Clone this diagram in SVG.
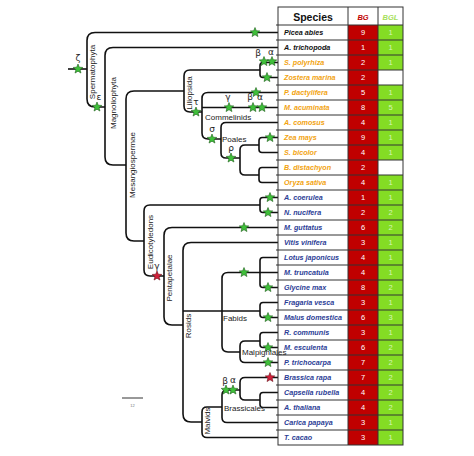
<svg xmlns="http://www.w3.org/2000/svg" xmlns:xlink="http://www.w3.org/1999/xlink" width="474" height="456" viewBox="0 0 474 456">
<defs>
<polygon id="star" points="0,-5 1.29,-1.78 4.76,-1.55 2.09,0.68 2.94,4.05 0,2.2 -2.94,4.05 -2.09,0.68 -4.76,-1.55 -1.29,-1.78"/>
<style>
.br{fill:none;stroke:#111;stroke-width:1.6}
.gs{fill:#3fbf3a;stroke:#1d5e1a;stroke-width:0.6}
.rs{fill:#d0203a;stroke:#6a0f18;stroke-width:0.6}
.cl{font-family:"Liberation Sans",Arial,sans-serif;font-size:8px;fill:#222}
.gk{font-family:"DejaVu Sans","Liberation Sans",sans-serif;font-size:9px;fill:#222;text-anchor:middle}
.sp{font-family:"Liberation Sans",Arial,sans-serif;font-size:7.2px;font-weight:bold;font-style:italic}
.k{fill:#111}.o{fill:#f2a30f}.b{fill:#2b3d96}
.bg{fill:#c00000}.bgl{fill:#84dc24}
.n1{font-family:"Liberation Sans",Arial,sans-serif;font-size:7.5px;fill:#fff;text-anchor:middle}
.n2{font-family:"Liberation Sans",Arial,sans-serif;font-size:7.5px;fill:#d8f5b8;text-anchor:middle}
.grid{stroke:#333;stroke-width:1;fill:none}
</style>
</defs>
<rect width="474" height="456" fill="#fff"/>
<g id="connectors">
<path class="br" d="M68,69 H87"/>
<path class="br" d="M278,32.5 H95 Q87,32.5 87,40.5 V99 Q87,107 95,107 H105"/>
<path class="br" d="M278,47.5 H113 Q105,47.5 105,55.5 V157 Q105,165 113,165 H126"/>
<path class="br" d="M184,91 H134 Q126,91 126,99 V233 Q126,241 134,241 H144"/>
<path class="br" d="M260,70 H190 Q184,70 184,76 V106 Q184,112 190,112 H202"/>
<path class="br" d="M278,62.5 H263 Q260,62.5 260,65.5 V74.5 Q260,77.5 263,77.5 H278"/>
<path class="br" d="M278,92.5 H208 Q202,92.5 202,98.5 V133 Q202,139 208,139 H221"/>
<path class="br" d="M202,107.5 H278"/>
<path class="br" d="M278,122.5 H226 Q221,122.5 221,127.5 V153 Q221,158 226,158 H240"/>
<path class="br" d="M259,145 H245 Q240,145 240,150 V170 Q240,175 245,175 H259"/>
<path class="br" d="M278,137.5 H262 Q259,137.5 259,140.5 V149.5 Q259,152.5 262,152.5 H278"/>
<path class="br" d="M278,167.5 H262 Q259,167.5 259,170.5 V179.5 Q259,182.5 262,182.5 H278"/>
<path class="br" d="M260,205 H150 Q144,205 144,211 V270 Q144,276 150,276 H164"/>
<path class="br" d="M278,197.5 H263 Q260,197.5 260,200.5 V209.5 Q260,212.5 263,212.5 H278"/>
<path class="br" d="M278,227.5 H172 Q164,227.5 164,235.5 V317 Q164,325 172,325 H183"/>
<path class="br" d="M278,242.5 H191 Q183,242.5 183,250.5 V414 Q183,422 191,422 H202"/>
<path class="br" d="M183,311 H260"/>
<path class="br" d="M278,272.5 H228 Q222,272.5 222,278.5 V346 Q222,352 228,352 H240"/>
<path class="br" d="M278,257.5 H263 Q260,257.5 260,260.5 V284.5 Q260,287.5 263,287.5 H278"/>
<path class="br" d="M278,302.5 H263 Q260,302.5 260,305.5 V314.5 Q260,317.5 263,317.5 H278"/>
<path class="br" d="M260,341 H245 Q240,341 240,346 V357.5 Q240,362.5 245,362.5 H278"/>
<path class="br" d="M278,332.5 H263 Q260,332.5 260,335.5 V344.5 Q260,347.5 263,347.5 H278"/>
<path class="br" d="M222,407 H207 Q202,407 202,412 V432.5 Q202,437.5 207,437.5 H278"/>
<path class="br" d="M240,390 H227 Q222,390 222,395 V417.5 Q222,422.5 227,422.5 H278"/>
<path class="br" d="M278,377.5 H245 Q240,377.5 240,382.5 V395 Q240,400 245,400 H260"/>
<path class="br" d="M278,392.5 H263 Q260,392.5 260,395.5 V404.5 Q260,407.5 263,407.5 H278"/>
</g>
<g id="events">
<use xlink:href="#star" class="gs" x="78" y="69"/>
<use xlink:href="#star" class="gs" x="255" y="32.5"/>
<use xlink:href="#star" class="gs" x="97" y="107"/>
<use xlink:href="#star" class="gs" x="264" y="61.5"/>
<use xlink:href="#star" class="gs" x="272" y="61.5"/>
<use xlink:href="#star" class="gs" x="267" y="77.5"/>
<use xlink:href="#star" class="gs" x="256" y="92.5"/>
<use xlink:href="#star" class="gs" x="229" y="107.5"/>
<use xlink:href="#star" class="gs" x="253" y="107.5"/>
<use xlink:href="#star" class="gs" x="262" y="107.5"/>
<use xlink:href="#star" class="gs" x="196" y="112"/>
<use xlink:href="#star" class="gs" x="212" y="139"/>
<use xlink:href="#star" class="gs" x="231" y="158"/>
<use xlink:href="#star" class="gs" x="270" y="137.5"/>
<use xlink:href="#star" class="gs" x="270" y="197.5"/>
<use xlink:href="#star" class="gs" x="268" y="212.5"/>
<use xlink:href="#star" class="rs" x="157" y="276"/>
<use xlink:href="#star" class="gs" x="244" y="227.5"/>
<use xlink:href="#star" class="gs" x="244" y="272.5"/>
<use xlink:href="#star" class="gs" x="268" y="287.5"/>
<use xlink:href="#star" class="gs" x="268" y="317.5"/>
<use xlink:href="#star" class="gs" x="268" y="347.5"/>
<use xlink:href="#star" class="gs" x="268" y="362.5"/>
<use xlink:href="#star" class="gs" x="226" y="390"/>
<use xlink:href="#star" class="gs" x="233" y="390"/>
<use xlink:href="#star" class="rs" x="270" y="377.5"/>
</g>
<g id="clade-labels">
<text class="gk" x="78" y="61" font-size="10">ζ</text>
<text class="gk" x="99" y="100">ε</text>
<text class="gk" x="258" y="56">β</text>
<text class="gk" x="271" y="55">α</text>
<text class="gk" x="196" y="105">τ</text>
<text class="gk" x="228" y="100">γ</text>
<text class="gk" x="250" y="100">β</text>
<text class="gk" x="260" y="100">α</text>
<text class="gk" x="212" y="132">σ</text>
<text class="gk" x="231" y="151">ρ</text>
<text class="gk" x="157" y="269">γ</text>
<text class="gk" x="225" y="384">β</text>
<text class="gk" x="233" y="383">α</text>
<text class="cl" transform="rotate(-90 95 72)" x="95" y="72" text-anchor="middle">Spermatophyta</text>
<text class="cl" transform="rotate(-90 116 103)" x="116" y="103" text-anchor="middle">Magnoliophyta</text>
<text class="cl" transform="rotate(-90 135 165)" x="135" y="165" text-anchor="middle">Mesangiospermae</text>
<text class="cl" transform="rotate(-90 192 93)" x="192" y="93" text-anchor="middle">Liliopsida</text>
<text class="cl" transform="rotate(-90 153 242)" x="153" y="242" text-anchor="middle">Eudicotyledons</text>
<text class="cl" transform="rotate(-90 172 278)" x="172" y="278" text-anchor="middle">Pentapetalae</text>
<text class="cl" transform="rotate(-90 191 326)" x="191" y="326" text-anchor="middle">Rosids</text>
<text class="cl" transform="rotate(-90 210 421)" x="210" y="421" text-anchor="middle">Malvids</text>
<text class="cl" x="205" y="120" font-size="8.5">Commelinids</text>
<text class="cl" x="222" y="142" font-size="5.5">Poales</text>
<text class="cl" x="223" y="321">Fabids</text>
<text class="cl" x="242" y="355" font-size="6.5">Malpighiales</text>
<text class="cl" x="224" y="411" font-size="7">Brassicales</text>
</g>
<g id="scale">
<path d="M122,398 H143" stroke="#333" stroke-width="1"/>
<text x="132.5" y="407" font-family="Liberation Sans,sans-serif" font-size="4" fill="#777" text-anchor="middle">12</text>
</g>
<g id="table">
<rect x="278" y="7" width="125" height="18" fill="#fff"/>
<text x="313" y="20.5" font-family="Liberation Sans,Arial,sans-serif" font-size="10.5" font-weight="bold" fill="#111" text-anchor="middle">Species</text>
<text x="363" y="19.5" font-family="Liberation Sans,Arial,sans-serif" font-size="7.5" font-weight="bold" font-style="italic" fill="#c00000" text-anchor="middle">BG</text>
<text x="390.5" y="19.5" font-family="Liberation Sans,Arial,sans-serif" font-size="7.5" font-weight="bold" font-style="italic" fill="#a6e05a" text-anchor="middle">BGL</text>
<g id="row1"><rect class="bg" x="348" y="25" width="30" height="15"/><rect class="bgl" x="378" y="25" width="25" height="15"/><text class="sp k" x="284" y="35">Picea abies</text><text class="n1" x="363" y="35">9</text><text class="n2" x="390.5" y="35">1</text></g>
<g id="row2"><rect class="bg" x="348" y="40" width="30" height="15"/><rect class="bgl" x="378" y="40" width="25" height="15"/><text class="sp k" x="284" y="50">A. trichopoda</text><text class="n1" x="363" y="50">1</text><text class="n2" x="390.5" y="50">1</text></g>
<g id="row3"><rect class="bg" x="348" y="55" width="30" height="15"/><rect class="bgl" x="378" y="55" width="25" height="15"/><text class="sp o" x="284" y="65">S. polyrhiza</text><text class="n1" x="363" y="65">2</text><text class="n2" x="390.5" y="65">1</text></g>
<g id="row4"><rect class="bg" x="348" y="70" width="30" height="15"/><text class="sp o" x="284" y="80">Zostera marina</text><text class="n1" x="363" y="80">2</text></g>
<g id="row5"><rect class="bg" x="348" y="85" width="30" height="15"/><rect class="bgl" x="378" y="85" width="25" height="15"/><text class="sp o" x="284" y="95">P. dactylifera</text><text class="n1" x="363" y="95">5</text><text class="n2" x="390.5" y="95">1</text></g>
<g id="row6"><rect class="bg" x="348" y="100" width="30" height="15"/><rect class="bgl" x="378" y="100" width="25" height="15"/><text class="sp o" x="284" y="110">M. acuminata</text><text class="n1" x="363" y="110">8</text><text class="n2" x="390.5" y="110">5</text></g>
<g id="row7"><rect class="bg" x="348" y="115" width="30" height="15"/><rect class="bgl" x="378" y="115" width="25" height="15"/><text class="sp o" x="284" y="125">A. comosus</text><text class="n1" x="363" y="125">4</text><text class="n2" x="390.5" y="125">1</text></g>
<g id="row8"><rect class="bg" x="348" y="130" width="30" height="15"/><rect class="bgl" x="378" y="130" width="25" height="15"/><text class="sp o" x="284" y="140">Zea mays</text><text class="n1" x="363" y="140">9</text><text class="n2" x="390.5" y="140">1</text></g>
<g id="row9"><rect class="bg" x="348" y="145" width="30" height="15"/><rect class="bgl" x="378" y="145" width="25" height="15"/><text class="sp o" x="284" y="155">S. bicolor</text><text class="n1" x="363" y="155">4</text><text class="n2" x="390.5" y="155">1</text></g>
<g id="row10"><rect class="bg" x="348" y="160" width="30" height="15"/><text class="sp o" x="284" y="170">B. distachyon</text><text class="n1" x="363" y="170">2</text></g>
<g id="row11"><rect class="bg" x="348" y="175" width="30" height="15"/><rect class="bgl" x="378" y="175" width="25" height="15"/><text class="sp o" x="284" y="185">Oryza sativa</text><text class="n1" x="363" y="185">4</text><text class="n2" x="390.5" y="185">1</text></g>
<g id="row12"><rect class="bg" x="348" y="190" width="30" height="15"/><rect class="bgl" x="378" y="190" width="25" height="15"/><text class="sp b" x="284" y="200">A. coerulea</text><text class="n1" x="363" y="200">1</text><text class="n2" x="390.5" y="200">1</text></g>
<g id="row13"><rect class="bg" x="348" y="205" width="30" height="15"/><rect class="bgl" x="378" y="205" width="25" height="15"/><text class="sp b" x="284" y="215">N. nucifera</text><text class="n1" x="363" y="215">2</text><text class="n2" x="390.5" y="215">2</text></g>
<g id="row14"><rect class="bg" x="348" y="220" width="30" height="15"/><rect class="bgl" x="378" y="220" width="25" height="15"/><text class="sp b" x="284" y="230">M. guttatus</text><text class="n1" x="363" y="230">6</text><text class="n2" x="390.5" y="230">2</text></g>
<g id="row15"><rect class="bg" x="348" y="235" width="30" height="15"/><rect class="bgl" x="378" y="235" width="25" height="15"/><text class="sp b" x="284" y="245">Vitis vinifera</text><text class="n1" x="363" y="245">3</text><text class="n2" x="390.5" y="245">1</text></g>
<g id="row16"><rect class="bg" x="348" y="250" width="30" height="15"/><rect class="bgl" x="378" y="250" width="25" height="15"/><text class="sp b" x="284" y="260">Lotus japonicus</text><text class="n1" x="363" y="260">4</text><text class="n2" x="390.5" y="260">1</text></g>
<g id="row17"><rect class="bg" x="348" y="265" width="30" height="15"/><rect class="bgl" x="378" y="265" width="25" height="15"/><text class="sp b" x="284" y="275">M. truncatula</text><text class="n1" x="363" y="275">4</text><text class="n2" x="390.5" y="275">1</text></g>
<g id="row18"><rect class="bg" x="348" y="280" width="30" height="15"/><rect class="bgl" x="378" y="280" width="25" height="15"/><text class="sp b" x="284" y="290">Glycine max</text><text class="n1" x="363" y="290">8</text><text class="n2" x="390.5" y="290">2</text></g>
<g id="row19"><rect class="bg" x="348" y="295" width="30" height="15"/><rect class="bgl" x="378" y="295" width="25" height="15"/><text class="sp b" x="284" y="305">Fragaria vesca</text><text class="n1" x="363" y="305">3</text><text class="n2" x="390.5" y="305">1</text></g>
<g id="row20"><rect class="bg" x="348" y="310" width="30" height="15"/><rect class="bgl" x="378" y="310" width="25" height="15"/><text class="sp b" x="284" y="320">Malus domestica</text><text class="n1" x="363" y="320">6</text><text class="n2" x="390.5" y="320">3</text></g>
<g id="row21"><rect class="bg" x="348" y="325" width="30" height="15"/><rect class="bgl" x="378" y="325" width="25" height="15"/><text class="sp b" x="284" y="335">R. communis</text><text class="n1" x="363" y="335">3</text><text class="n2" x="390.5" y="335">1</text></g>
<g id="row22"><rect class="bg" x="348" y="340" width="30" height="15"/><rect class="bgl" x="378" y="340" width="25" height="15"/><text class="sp b" x="284" y="350">M. esculenta</text><text class="n1" x="363" y="350">6</text><text class="n2" x="390.5" y="350">2</text></g>
<g id="row23"><rect class="bg" x="348" y="355" width="30" height="15"/><rect class="bgl" x="378" y="355" width="25" height="15"/><text class="sp b" x="284" y="365">P. trichocarpa</text><text class="n1" x="363" y="365">7</text><text class="n2" x="390.5" y="365">2</text></g>
<g id="row24"><rect class="bg" x="348" y="370" width="30" height="15"/><rect class="bgl" x="378" y="370" width="25" height="15"/><text class="sp b" x="284" y="380">Brassica rapa</text><text class="n1" x="363" y="380">7</text><text class="n2" x="390.5" y="380">2</text></g>
<g id="row25"><rect class="bg" x="348" y="385" width="30" height="15"/><rect class="bgl" x="378" y="385" width="25" height="15"/><text class="sp b" x="284" y="395">Capsella rubella</text><text class="n1" x="363" y="395">4</text><text class="n2" x="390.5" y="395">2</text></g>
<g id="row26"><rect class="bg" x="348" y="400" width="30" height="15"/><rect class="bgl" x="378" y="400" width="25" height="15"/><text class="sp b" x="284" y="410">A. thaliana</text><text class="n1" x="363" y="410">4</text><text class="n2" x="390.5" y="410">2</text></g>
<g id="row27"><rect class="bg" x="348" y="415" width="30" height="15"/><rect class="bgl" x="378" y="415" width="25" height="15"/><text class="sp b" x="284" y="425">Carica papaya</text><text class="n1" x="363" y="425">3</text><text class="n2" x="390.5" y="425">1</text></g>
<g id="row28"><rect class="bg" x="348" y="430" width="30" height="15"/><rect class="bgl" x="378" y="430" width="25" height="15"/><text class="sp b" x="284" y="440">T. cacao</text><text class="n1" x="363" y="440">3</text><text class="n2" x="390.5" y="440">1</text></g>
<path class="grid" d="M276,25 H403 M276,40 H403 M276,55 H403 M276,70 H403 M276,85 H403 M276,100 H403 M276,115 H403 M276,130 H403 M276,145 H403 M276,160 H403 M276,175 H403 M276,190 H403 M276,205 H403 M276,220 H403 M276,235 H403 M276,250 H403 M276,265 H403 M276,280 H403 M276,295 H403 M276,310 H403 M276,325 H403 M276,340 H403 M276,355 H403 M276,370 H403 M276,385 H403 M276,400 H403 M276,415 H403 M276,430 H403 M348,7 V445 M378,7 V445"/>
<rect class="grid" x="278" y="7" width="125" height="438"/>
</g>
</svg>
